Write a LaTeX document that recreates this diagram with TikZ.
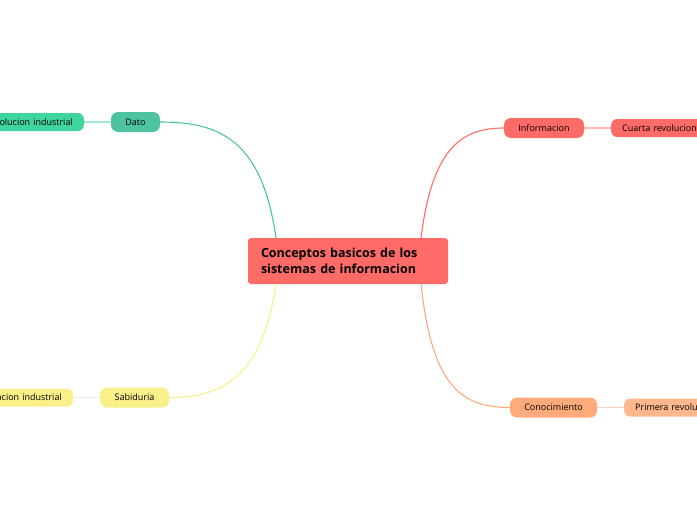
\documentclass[tikz,border=0pt]{standalone}
\usepackage{fontspec}
\setmainfont{Open Sans}
\begin{document}
\begin{tikzpicture}[x=1pt,y=-1pt,
  sub/.style={rounded corners=7pt,minimum height=20pt,inner xsep=8pt,font=\fontsize{9}{10}\selectfont,text=black},
  leaf/.style={rounded corners=6pt,minimum height=18pt,inner xsep=11pt,font=\fontsize{9}{10}\selectfont,text=black},
  br/.style={line width=1.1pt}]
\useasboundingbox (0,0) rectangle (697,520);
\clip (0,0) rectangle (697,520);
\definecolor{cred}{HTML}{FF6B66}
\definecolor{cteal}{HTML}{4EC3A0}
\definecolor{cgreen}{HTML}{3FD69E}
\definecolor{cyel}{HTML}{F9F08A}
\definecolor{corg}{HTML}{FFAA7A}
\node[fill=cred,rounded corners=3pt,minimum width=200pt,minimum height=46pt,align=left,text width=174pt,font=\fontsize{12.5}{16}\selectfont\bfseries] (c) at (348,261) {Conceptos basicos de los\\sistemas de informacion};
\node[sub,fill=cteal,minimum width=49pt] (d) at (135.5,122) {Dato};
\node[leaf,fill=cgreen,anchor=east,text width=100pt,align=right] (d1) at (84,122) {olucion industrial};
\node[sub,fill=cred,minimum width=80pt] (i) at (544,128) {Informacion};
\node[leaf,fill=cred,anchor=west,text width=100pt,align=left] (i1) at (611,128) {Cuarta revolucion};
\node[sub,fill=corg,minimum width=87pt] (k) at (553.5,407.5) {Conocimiento};
\node[leaf,fill=corg!85,anchor=west,text width=100pt,align=left] (k1) at (624,407.5) {Primera revolu};
\node[sub,fill=cyel,minimum width=69pt] (s) at (134.5,397.5) {Sabiduria};
\node[leaf,fill=cyel,anchor=east,text width=100pt,align=right] (s1) at (73,397.5) {acion industrial};
\coordinate (ctl) at (276,238); \coordinate (cbl) at (276,284);
\coordinate (ctr) at (421,238); \coordinate (cbr) at (421,284);
\draw[br,cteal] (ctl) .. controls (262,140) and (220,122) .. (d.east);
\draw[br,cyel] (cbl) .. controls (262,380) and (220,397.5) .. (s.east);
\draw[br,cred] (ctr) .. controls (432,150) and (460,128) .. (i.west);
\draw[br,corg] (cbr) .. controls (432,385) and (460,407.5) .. (k.west);
\draw[br,cgreen!50] (d.west) -- (d1.east);
\draw[br,cred!50] (i.east) -- (i1.west);
\draw[br,corg!50] (k.east) -- (k1.west);
\draw[br,cyel!40!gray!20] (s.west) -- (s1.east);
\end{tikzpicture}
\end{document}
